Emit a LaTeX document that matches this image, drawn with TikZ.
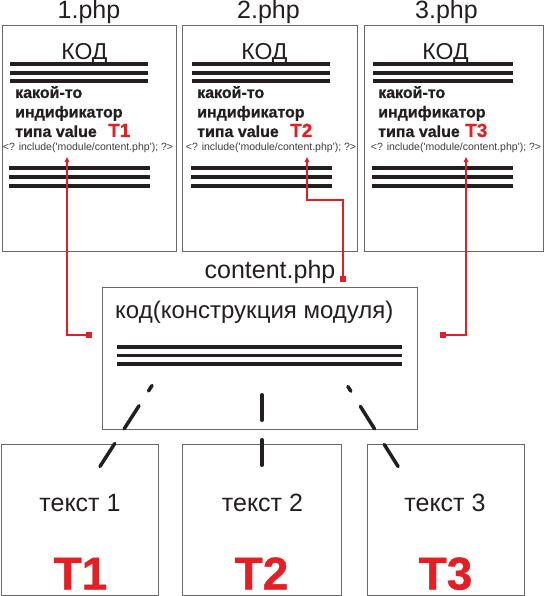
\documentclass[tikz,border=0pt]{standalone}
\usepackage{fontspec}
\setmainfont{Liberation Sans}
\newfontfamily\heavyfont[FakeBold=0.8]{Liberation Sans Bold}
\usetikzlibrary{arrows.meta}
\definecolor{myred}{RGB}{227,30,36}
\definecolor{ink}{RGB}{35,31,32}
\definecolor{boxgray}{RGB}{105,105,105}
\definecolor{codegray}{RGB}{60,60,60}
\newcommand{\fsz}[1]{\fontsize{#1}{#1}\selectfont}
\begin{document}
\begin{tikzpicture}[x=1pt,y=-1pt,
  frame/.style={draw=boxgray, line width=1pt, fill=white, inner sep=0pt, anchor=north west},
  bar/.style={draw=ink, line width=3.6pt},
  lbl/.style={inner sep=0pt, anchor=base, text=ink},
  lblw/.style={inner sep=0pt, anchor=base west, text=ink},
  title/.style={lbl, font=\fsz{25}},
  kod/.style={lbl, font=\fsz{23}},
  boldtxt/.style={lblw, font=\fsz{16}\heavyfont},
  tsmall/.style={lblw, font=\fsz{19}\heavyfont, text=myred},
  tbig/.style={lbl, font=\fsz{46}\heavyfont, text=myred, text depth=0pt},
  inc/.style={lbl, font=\fsz{10.5}, text=codegray},
  redline/.style={draw=myred, line width=1.1pt, -{Triangle[length=5pt,width=4.5pt]}},
  redsq/.style={fill=myred, minimum size=6.5pt, inner sep=0pt},
  dashline/.style={draw=ink, line width=3.5pt, line cap=round}
]
\useasboundingbox (0,0) rectangle (545,596);

% ---------- top boxes ----------
\node[frame, minimum width=174pt, minimum height=226pt] (f1) at (2,25) {};
\node[frame, minimum width=175pt, minimum height=226pt] (f2) at (182,25) {};
\node[frame, minimum width=179pt, minimum height=226pt] (f3) at (364,25) {};

\node[title] (h1) at (89,18.5) {1.php};
\node[title] (h2) at (268.5,18.5) {2.php};
\node[title] (h3) at (446.5,18.5) {3.php};

\node[kod] (k1) at (84.5,60) {КОД};
\node[kod] (k2) at (264.5,60) {КОД};
\node[kod] (k3) at (445.5,60) {КОД};

% bars, top
\foreach \y in {64,73,81} {
  \draw[bar] (10,\y) -- (148,\y);
  \draw[bar] (192,\y) -- (330,\y);
  \draw[bar] (373,\y) -- (513,\y);
}
% bars, bottom
\foreach \y in {168,177,186} {
  \draw[bar] (9,\y) -- (150,\y);
  \draw[bar] (191,\y) -- (332,\y);
  \draw[bar] (372,\y) -- (513,\y);
}

% bold text blocks
\node[boldtxt] (a1) at (15,98) {какой-то};
\node[boldtxt] (b1) at (15,117.5) {индификатор};
\node[boldtxt] (c1) at (15,137) {типа value};
\node[tsmall] (v1) at (108,137) {T1};

\node[boldtxt] (a2) at (197,98) {какой-то};
\node[boldtxt] (b2) at (197,117.5) {индификатор};
\node[boldtxt] (c2) at (197,137) {типа value};
\node[tsmall] (v2) at (290,137) {T2};

\node[boldtxt] (a3) at (378,98) {какой-то};
\node[boldtxt] (b3) at (378,117.5) {индификатор};
\node[boldtxt] (c3) at (378,137) {типа value};
\node[tsmall] (v3) at (465,137) {T3};

\node[inc] (i1) at (88,150) {<? include(\textquotesingle module/content.php\textquotesingle); ?>};
\node[inc] (i2) at (271,150) {<? include(\textquotesingle module/content.php\textquotesingle); ?>};
\node[inc] (i3) at (456,150) {<? include(\textquotesingle module/content.php\textquotesingle); ?>};

% ---------- content box ----------
\node[title] (cl) at (270,278) {content.php};
\node[frame, minimum width=315pt, minimum height=142pt] (cb) at (102,287) {};
\node[lblw, font=\fsz{24}] (ct) at (115,318) {код(конструкция модуля)};
\foreach \y in {347,355.5,364} {
  \draw[bar] (117,\y) -- (402,\y);
}

% ---------- bottom boxes ----------
\node[frame, minimum width=157pt, minimum height=151pt] (g1) at (1,444) {};
\node[frame, minimum width=159pt, minimum height=151pt] (g2) at (182,444) {};
\node[frame, minimum width=157pt, minimum height=151pt] (g3) at (367,444) {};

\node[title] (x1) at (80,511) {текст 1};
\node[title] (x2) at (262.5,511) {текст 2};
\node[title] (x3) at (445,511) {текст 3};

\node[tbig] (y1) at (80.5,589.5) {T1};
\node[tbig] (y2) at (261.5,589.5) {T2};
\node[tbig] (y3) at (445.5,589.5) {T3};

% ---------- dashed connectors ----------
\coordinate (d1s) at (152.05,385.5);
\coordinate (d1e) at (99.95,466.5);
\coordinate (d2s) at (262,394.75);
\coordinate (d2e) at (262,465.25);
\coordinate (d3s) at (347.9,386.5);
\coordinate (d3e) at (398.1,466.5);
\draw[dashline, dash pattern=on 6.5pt off 17.5pt on 27.5pt off 17.5pt on 30pt] (d1s) -- (d1e);
\draw[dashline, dash pattern=on 25.5pt off 19.5pt on 30pt] (d2s) -- (d2e);
\draw[dashline, dash pattern=on 5.5pt off 18pt on 26.5pt off 18.5pt on 30pt] (d3s) -- (d3e);

% ---------- red connectors ----------
\node[redsq] (s1) at (89,335) {};
\node[redsq] (s2) at (343,279) {};
\node[redsq] (s3) at (443,335) {};
\coordinate (p1) at (67,157);
\coordinate (p2) at (307,157);
\coordinate (q2) at (307,200);
\coordinate (p3) at (466,157);
\draw[redline] (s1.center) -| (p1);
\draw[redline] (s2.center) |- (q2) -- (p2);
\draw[redline] (s3.center) -| (p3);
\end{tikzpicture}
\end{document}
